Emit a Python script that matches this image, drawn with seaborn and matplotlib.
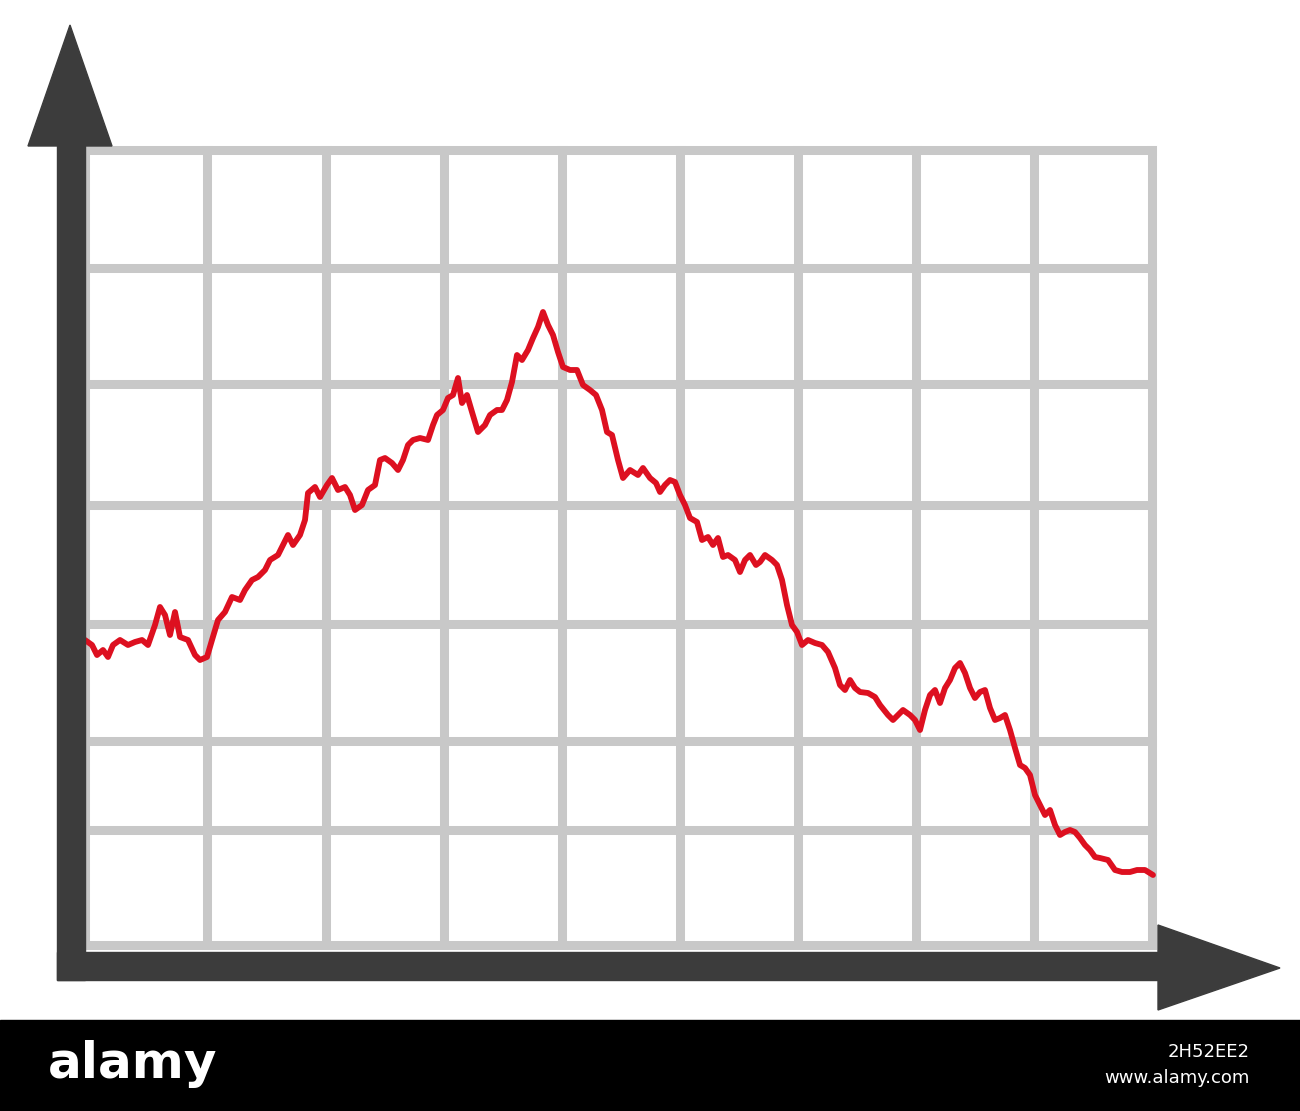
import matplotlib
matplotlib.use("Agg")
import matplotlib.pyplot as plt
import seaborn as sns
import pandas as pd
from matplotlib.patches import Polygon, Rectangle

# grid positions (pixel space of the 1300x1111 canvas)
grid_x = [85, 207, 326, 444, 562, 680, 798, 916, 1034, 1152]
grid_y = [150, 268, 384, 505, 624, 741, 830, 945]

# red price line
line_x = [85, 92, 97, 103, 108, 113, 120, 128, 135, 142, 148, 155, 160, 165, 170, 175, 180, 188, 195, 200,
          207, 212, 218, 225, 232, 240, 245, 252, 258, 265, 270, 278, 283, 288, 293, 300, 305, 308, 315, 320,
          327, 332, 338, 345, 350, 355, 362, 368, 375, 380, 385, 392, 398, 403, 408, 413, 420, 428, 433, 437,
          443, 448, 453, 458, 462, 467, 472, 478, 485, 490, 497, 502, 507, 512, 517, 522, 528, 533, 538, 543,
          548, 553, 558, 563, 570, 577, 583, 590, 596, 602, 607, 612, 618, 623, 630, 638, 643, 650, 656, 660,
          665, 670, 675, 680, 685, 690, 697, 702, 708, 713, 718, 723, 728, 735, 740, 745, 750, 756, 760, 765,
          772, 777, 782, 787, 792, 797, 802, 808, 815, 822, 828, 835, 840, 845, 850, 855, 860, 868, 875, 880,
          888, 893, 898, 903, 910, 915, 920, 925, 930, 935, 940, 945, 950, 955, 960, 965, 970, 975, 980, 985,
          990, 995, 1000, 1005, 1010, 1015, 1020, 1025, 1030, 1035, 1040, 1045, 1050, 1055, 1060, 1065, 1070,
          1075, 1080, 1085, 1090, 1095, 1100, 1108, 1115, 1122, 1130, 1137, 1145, 1153]
line_y = [640, 645, 655, 650, 657, 645, 640, 645, 642, 640, 645, 625, 607, 615, 635, 612, 637, 640, 655, 660,
          657, 640, 620, 612, 597, 600, 590, 580, 577, 570, 560, 555, 545, 535, 545, 535, 520, 493, 487, 497,
          485, 478, 490, 487, 495, 510, 505, 490, 485, 460, 458, 463, 470, 460, 445, 440, 438, 440, 425, 415,
          410, 398, 395, 378, 403, 395, 412, 432, 425, 415, 410, 410, 400, 382, 355, 360, 350, 338, 327, 312,
          325, 335, 352, 367, 370, 370, 385, 390, 395, 410, 432, 435, 460, 478, 470, 475, 468, 478, 483, 492,
          485, 480, 482, 495, 505, 518, 522, 540, 537, 545, 538, 557, 555, 560, 572, 560, 555, 565, 562, 555,
          560, 565, 580, 605, 625, 632, 645, 640, 643, 645, 652, 668, 685, 690, 680, 688, 692, 693, 697, 705,
          715, 720, 715, 710, 715, 720, 730, 710, 695, 690, 703, 688, 680, 668, 663, 673, 688, 698, 692, 690,
          708, 720, 718, 715, 730, 748, 765, 768, 775, 795, 805, 815, 810, 825, 835, 832, 830,
          832, 838, 845, 850, 857, 858, 860, 870, 872, 872, 870, 870, 875]

sns.set_style("white")
fig = plt.figure(figsize=(13, 11.11), dpi=100)
ax = fig.add_axes([0, 0, 1, 1])

grey = "#c8c8c8"
for x in grid_x:
    ax.plot([x, x], [grid_y[0], grid_y[-1]], color=grey, lw=6.5, solid_capstyle="projecting", zorder=1)
for y in grid_y:
    ax.plot([grid_x[0], grid_x[-1]], [y, y], color=grey, lw=6.5, solid_capstyle="projecting", zorder=1)

df = pd.DataFrame({"x": line_x, "y": line_y})
sns.lineplot(data=df, x="x", y="y", ax=ax, color="#dd1020", lw=4.2, sort=False, zorder=3)
ax.set_xlim(0, 1300)
ax.set_ylim(1111, 0)
ax.axis("off")

dark = "#3c3c3c"
ax.add_patch(Rectangle((57, 140), 28, 840, color=dark, zorder=4))
ax.add_patch(Polygon([(28, 146), (112, 146), (70, 25)], color=dark, zorder=4))
ax.add_patch(Rectangle((57, 952), 1105, 28, color=dark, zorder=4))
ax.add_patch(Polygon([(1158, 925), (1158, 1010), (1280, 968)], color=dark, zorder=4))

# watermark band
ax.add_patch(Rectangle((0, 1020), 1300, 91, color="black", zorder=5))
ax.text(48, 1064, "alamy", color="white", fontsize=36, fontweight="bold", va="center", ha="left", zorder=6)
ax.text(1250, 1052, "2H52EE2", color="white", fontsize=13, va="center", ha="right", zorder=6)
ax.text(1250, 1078, "www.alamy.com", color="white", fontsize=13, va="center", ha="right", zorder=6)

fig.savefig("out.png", dpi=100, facecolor="white")
